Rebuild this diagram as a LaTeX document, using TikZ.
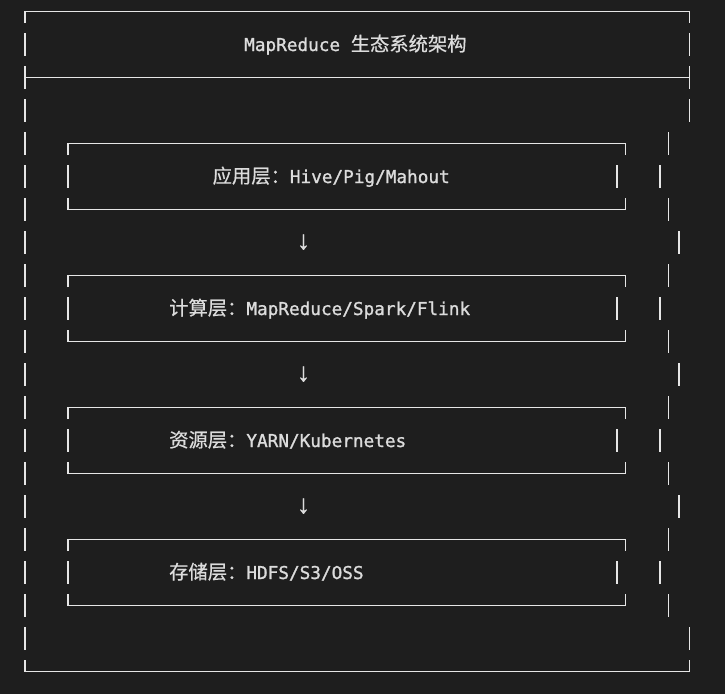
\documentclass[tikz,border=0pt]{standalone}
\usepackage{fontspec}
\setmainfont{DejaVu Sans Mono}[FakeBold=1.2]
\newfontfamily\cjkfont{Noto Sans CJK SC}[FakeBold=0.6]
\newfontfamily\arrowfont{Liberation Mono}[FakeBold=0.8]
\definecolor{bgc}{HTML}{1E1E1E}
\definecolor{linec}{HTML}{E6E6E6}
\definecolor{txtc}{HTML}{DCDCDC}
\newcommand\zh[1]{{\cjkfont\fontsize{19.3}{22}\selectfont #1}}
\tikzset{
  frame/.style={draw=linec, line width=1.3pt, line join=miter},
  vbar/.style={draw=linec, line width=1.7pt},
  lbl/.style={text=txtc, anchor=base west, inner sep=0pt, font=\fontsize{17.7}{22}\selectfont},
  arrowtxt/.style={text=txtc, anchor=base, inner sep=0pt, font=\arrowfont\fontsize{26}{28}\selectfont}
}
\begin{document}
\begin{tikzpicture}[x=1pt,y=-1pt]
\fill[bgc] (0,0) rectangle (725,694);
\useasboundingbox (0,0) rectangle (725,694);
% outer frame top, separator, bottom
\draw[frame] (25,23) -- (25,11.7) -- (689.5,11.7) -- (689.5,23);
\draw[frame] (25,77.7) -- (689.5,77.7);
\draw[frame] (25,660.4) -- (25,671.7) -- (689.5,671.7) -- (689.5,660.4);
% left bars of outer frame
\foreach \i in {2,...,20}{
  \pgfmathsetmacro\ry{11.7+33*(\i-1)}
  \draw[vbar] (25,{\ry-11.3}) -- (25,{\ry+11.3});
}
% right bars of outer frame
\foreach \i/\x in {2/689.5,3/689.5,4/689.5,5/668.4,6/660.3,7/668.4,8/679,9/668.4,10/660.3,11/668.4,12/679,13/668.4,14/660.3,15/668.4,16/679,17/668.4,18/660.3,19/668.4,20/689.5}{
  \pgfmathsetmacro\ry{11.7+33*(\i-1)}
  \draw[vbar] (\x,{\ry-11.3}) -- (\x,{\ry+11.3});
}
% inner boxes
\foreach \k in {0,1,2,3}{
  \pgfmathsetmacro\yt{11.7+33*(4+4*\k)}
  \pgfmathsetmacro\ym{\yt+33}
  \pgfmathsetmacro\yb{\yt+66}
  \draw[frame] (68,{\yt+11.3}) -- (68,\yt) -- (625.5,\yt) -- (625.5,{\yt+11.3});
  \draw[frame] (68,{\yb-11.3}) -- (68,\yb) -- (625.5,\yb) -- (625.5,{\yb-11.3});
  \draw[vbar] (68,{\ym-11.3}) -- (68,{\ym+11.3});
  \draw[vbar] (617.3,{\ym-11.3}) -- (617.3,{\ym+11.3});
}
% texts
\node[lbl] (title) at (244,51) {MapReduce \zh{生态系统架构}};
\node[lbl] (app) at (212.5,183) {\zh{应用层：}Hive/Pig/Mahout};
\node[lbl] (comp) at (169,315) {\zh{计算层：}MapReduce/Spark/Flink};
\node[lbl] (res) at (169,447) {\zh{资源层：}YARN/Kubernetes};
\node[lbl] (sto) at (169,579) {\zh{存储层：}HDFS/S3/OSS};
% arrows
\node[arrowtxt] (a1) at (303.5,249) {↓};
\node[arrowtxt] (a2) at (303.5,381) {↓};
\node[arrowtxt] (a3) at (303.5,513) {↓};
\end{tikzpicture}
\end{document}
